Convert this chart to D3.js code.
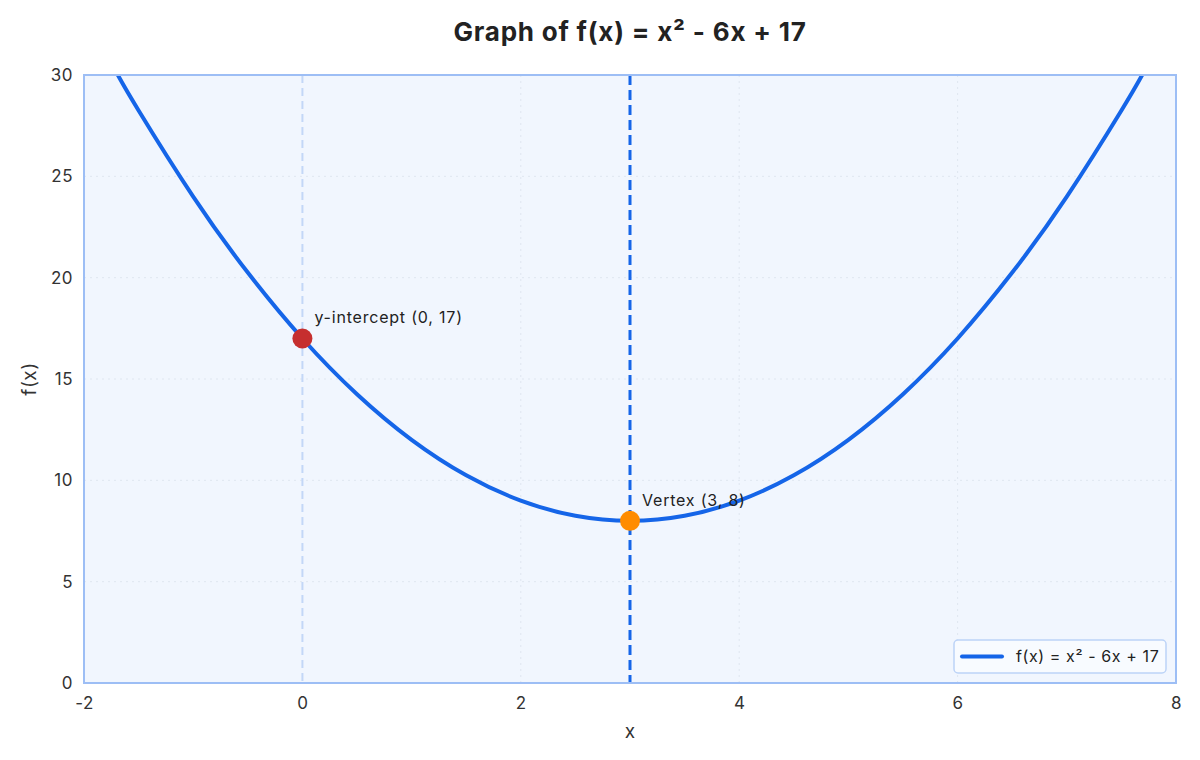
<!DOCTYPE html>
<html>
<head>
<meta charset="utf-8">
<script src="https://cdn.jsdelivr.net/npm/d3@7"></script>
<style>
  body { margin: 0; background: #fff; }
  svg { font-family: Inter, "Noto Sans", sans-serif; }
</style>
</head>
<body>
<svg id="drawing_region"></svg>
<script>
// curve samples of f(x) = x^2 - 6x + 17
const curve_x = [-1.69, -1.5, -1, -0.5, 0, 0.5, 1, 1.5, 2, 2.5, 3, 3.5, 4, 4.5, 5, 5.5, 6, 6.5, 7, 7.5, 7.69];
const curve_y = [30, 28.25, 24, 20.25, 17, 14.25, 12, 10.25, 9, 8.25, 8, 8.25, 9, 10.25, 12, 14.25, 17, 20.25, 24, 28.25, 30];

const x_ticks = [-2, 0, 2, 4, 6, 8];
const y_ticks = [0, 5, 10, 15, 20, 25, 30];

const key_points = [
    { x: 0, y: 17, label: "y-intercept (0, 17)", color: "#c62f2f" },
    { x: 3, y: 8, label: "Vertex (3, 8)", color: "#ff8c00" }
];

const vertex_x = 3;
const legend_label = "f(x) = x² - 6x + 17";
const title_text = "Graph of f(x) = x² - 6x + 17";

const config = {
    width: 1200,
    height: 760,
    margin: { top: 75, right: 24, bottom: 77, left: 84 }
};

const blue = "#1565e8";

const svg = d3.select("#drawing_region")
    .attr("width", config.width)
    .attr("height", config.height);

const inner_width = config.width - config.margin.left - config.margin.right;
const inner_height = config.height - config.margin.top - config.margin.bottom;

const chart = svg.append("g")
    .attr("transform", `translate(${config.margin.left}, ${config.margin.top})`);

const xscale = d3.scaleLinear().domain([-2, 8]).range([0, inner_width]);
const yscale = d3.scaleLinear().domain([0, 30]).range([inner_height, 0]);

// background
chart.append("rect")
    .attr("width", inner_width)
    .attr("height", inner_height)
    .attr("fill", "#f1f6fe");

chart.append("clipPath").attr("id", "clip")
    .append("rect")
    .attr("width", inner_width)
    .attr("height", inner_height);

// dotted grid
chart.append("g").selectAll("line")
    .data(x_ticks.filter(d => d !== -2 && d !== 8 && d !== 0))
    .join("line")
    .attr("x1", d => xscale(d)).attr("x2", d => xscale(d))
    .attr("y1", 0).attr("y2", inner_height)
    .attr("stroke", "#dfe6f0")
    .attr("stroke-width", 1)
    .attr("stroke-dasharray", "2,4");

chart.append("g").selectAll("line")
    .data(y_ticks.filter(d => d !== 0 && d !== 30))
    .join("line")
    .attr("x1", 0).attr("x2", inner_width)
    .attr("y1", d => yscale(d)).attr("y2", d => yscale(d))
    .attr("stroke", "#dfe6f0")
    .attr("stroke-width", 1)
    .attr("stroke-dasharray", "2,4");

// y axis line at x = 0
chart.append("line")
    .attr("x1", xscale(0)).attr("x2", xscale(0))
    .attr("y1", 0).attr("y2", inner_height)
    .attr("stroke", "#c3d7f7")
    .attr("stroke-width", 2)
    .attr("stroke-dasharray", "8,5");

// vertex line
chart.append("line")
    .attr("x1", xscale(vertex_x)).attr("x2", xscale(vertex_x))
    .attr("y1", 0).attr("y2", inner_height)
    .attr("stroke", blue)
    .attr("stroke-width", 3)
    .attr("stroke-dasharray", "10,5");

// curve
const line = d3.line()
    .x((d, i) => xscale(curve_x[i]))
    .y(d => yscale(d))
    .curve(d3.curveNatural);

chart.append("path")
    .attr("d", line(curve_y))
    .attr("clip-path", "url(#clip)")
    .attr("fill", "none")
    .attr("stroke", blue)
    .attr("stroke-width", 4);

// key points
chart.selectAll(".kp")
    .data(key_points)
    .join("circle")
    .attr("class", "kp")
    .attr("cx", d => xscale(d.x))
    .attr("cy", d => yscale(d.y))
    .attr("r", 10)
    .attr("fill", d => d.color);

chart.selectAll(".kplabel")
    .data(key_points)
    .join("text")
    .attr("class", "kplabel")
    .attr("x", d => xscale(d.x) + 12)
    .attr("y", d => yscale(d.y) - 15)
    .attr("font-size", 16)
    .attr("letter-spacing", 0.8)
    .attr("fill", "#222")
    .text(d => d.label);

// border
chart.append("rect")
    .attr("width", inner_width)
    .attr("height", inner_height)
    .attr("fill", "none")
    .attr("stroke", "#9dbef5")
    .attr("stroke-width", 2);

// axes
const xaxis = d3.axisBottom(xscale).tickValues(x_ticks).tickFormat(d => String(d)).tickSize(0).tickPadding(14);
const yaxis = d3.axisLeft(yscale).tickValues(y_ticks).tickFormat(d => String(d)).tickSize(0).tickPadding(11);

const xaxis_group = chart.append("g")
    .attr("transform", `translate(0, ${inner_height})`)
    .call(xaxis);
const yaxis_group = chart.append("g").call(yaxis);

[xaxis_group, yaxis_group].forEach(g => {
    g.select(".domain").remove();
    g.selectAll("text")
        .attr("font-size", 17)
        .attr("font-family", "Inter, sans-serif")
        .attr("letter-spacing", 0.5)
        .attr("fill", "#333");
});

// axis labels
svg.append("text")
    .attr("x", config.margin.left + inner_width / 2)
    .attr("y", 738)
    .attr("text-anchor", "middle")
    .attr("font-size", 19)
    .attr("fill", "#333")
    .text("x");

svg.append("text")
    .attr("transform", `translate(36, ${config.margin.top + inner_height / 2}) rotate(-90)`)
    .attr("text-anchor", "middle")
    .attr("font-size", 19)
    .attr("letter-spacing", 0.5)
    .attr("fill", "#333")
    .text("f(x)");

// title
svg.append("text")
    .attr("x", config.margin.left + inner_width / 2)
    .attr("y", 41)
    .attr("text-anchor", "middle")
    .attr("font-size", 26)
    .attr("font-weight", "bold")
    .attr("letter-spacing", 0.8)
    .attr("fill", "#222")
    .text(title_text);

// legend
const legend = chart.append("g")
    .attr("transform", `translate(${inner_width - 222}, ${inner_height - 43})`);

legend.append("rect")
    .attr("width", 212)
    .attr("height", 33)
    .attr("rx", 4)
    .attr("fill", "#f8fbff")
    .attr("stroke", "#bcd3f7")
    .attr("stroke-width", 1.5);

legend.append("line")
    .attr("x1", 8).attr("x2", 48)
    .attr("y1", 16.5).attr("y2", 16.5)
    .attr("stroke", blue)
    .attr("stroke-width", 4)
    .attr("stroke-linecap", "round");

legend.append("text")
    .attr("x", 62)
    .attr("y", 22)
    .attr("font-size", 16)
    .attr("letter-spacing", 0.6)
    .attr("fill", "#222")
    .text(legend_label);
</script>
</body>
</html>
